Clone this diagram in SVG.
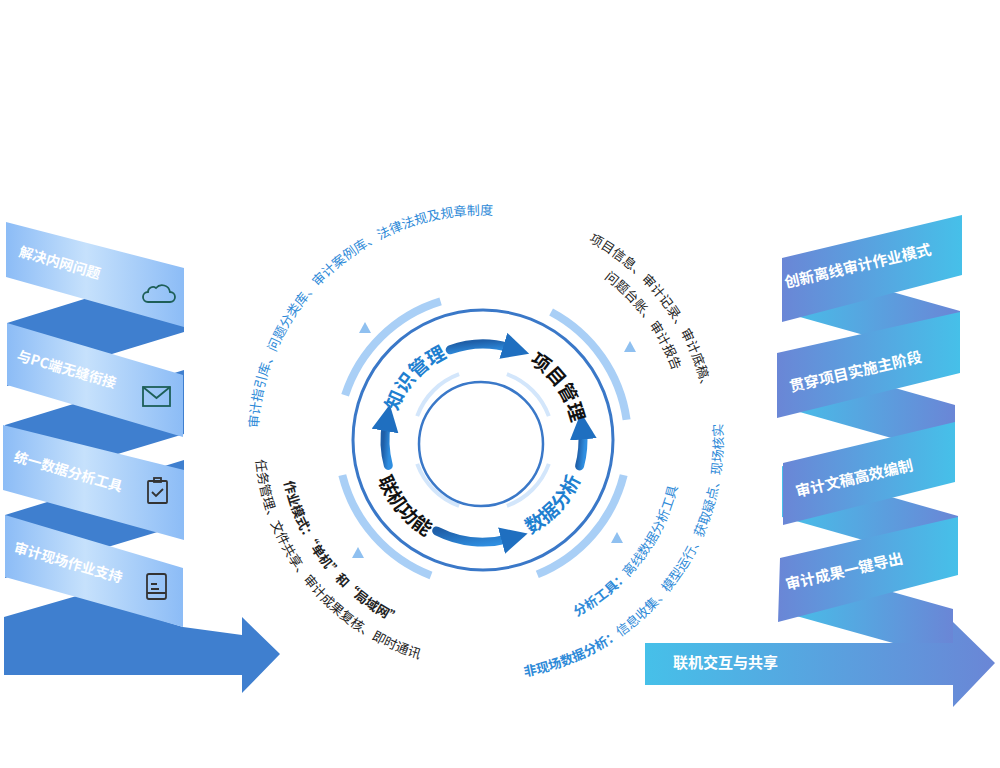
<svg xmlns="http://www.w3.org/2000/svg" width="1000" height="768" viewBox="0 0 1000 768">
<style>
text{font-family:"Noto Sans CJK SC","Liberation Sans",sans-serif}
.bt{fill:#fff;font-weight:bold;font-size:14px}
.rt{fill:#fff;font-weight:bold;font-size:15px}
.blue{fill:#2e8ad8;font-size:13px}
.blk{fill:#222;font-size:13px}
.lab{font-weight:bold;font-size:19px}
.arr{fill:none;stroke:url(#ga);stroke-width:9;stroke-linecap:round}
.la{fill:none;stroke:#a9cff6;stroke-width:8}
.li{fill:none;stroke:#d3e6fb;stroke-width:4}
.tri{fill:#8fc0f0}
.ic{fill:none;stroke:#1d5f58;stroke-width:1.8}
.ic2{fill:none;stroke:#333;stroke-width:1.8}
</style>
<defs>
<linearGradient id="gl" x1="0" y1="0" x2="1" y2="0"><stop offset="0" stop-color="#8cbcf6"/><stop offset="0.45" stop-color="#c6e1fc"/><stop offset="1" stop-color="#8cbcf6"/></linearGradient>
<linearGradient id="gr" x1="0" y1="0" x2="1" y2="0"><stop offset="0" stop-color="#6a86d6"/><stop offset="1" stop-color="#46c0e9"/></linearGradient>
<linearGradient id="gr2" x1="0" y1="0" x2="1" y2="0"><stop offset="0" stop-color="#46c0e9"/><stop offset="1" stop-color="#6a86d6"/></linearGradient>
<linearGradient id="ga" x1="0" y1="0" x2="1" y2="1"><stop offset="0" stop-color="#1f5fa8"/><stop offset="1" stop-color="#2f8ee0"/></linearGradient>
<marker id="ah" viewBox="0 0 10 10" refX="3" refY="5" markerWidth="3" markerHeight="3" orient="auto"><path d="M0,0 L10,5 L0,10 z" fill="#1f6fc0"/></marker>
<path id="pA" d="M258.3,428.2 A225,225 0 0 1 560,228.5"/>
<path id="pB" d="M588.6,241.3 A225,225 0 0 1 708,440"/>
<path id="pC" d="M604,278 A202,202 0 0 1 684,422"/>
<path id="pD" d="M524.7,676.4 A240,240 0 0 0 719.4,398.3"/>
<path id="pE" d="M576.9,616.6 A200,200 0 0 0 683,440"/>
<path id="pF" d="M284,482 A203,203 0 0 0 447.8,640"/>
<path id="pG" d="M255.9,459.9 A228,228 0 0 0 463.1,667.1"/>
<path id="p1" d="M396.1,416.7 A90,90 0 0 1 452.2,355.4"/>
<path id="p2" d="M521,358.4 A90,90 0 0 1 572.7,432.2"/>
<path id="p3" d="M518.9,538.7 A105,105 0 0 0 584.4,467.2"/>
<path id="p4" d="M374.8,469 A112,112 0 0 0 435.7,541.5"/>
</defs>
<rect width="1000" height="768" fill="#fff"/>

<g id="left-panel">
<polygon points="4,617 80,595 183,627 242,635 242,617 280,654 242,693 242,675 4,675" fill="#3f7fcf"/>
<polygon points="7,323 184,268 184,332 7,386" fill="#3f7fcf"/>
<polygon points="5,425 184,370 184,434 5,488" fill="#3f7fcf"/>
<polygon points="5,515 184,460 184,524 5,578" fill="#3f7fcf"/>
<polygon points="6,222 184,268 184,327 6,277" fill="url(#gl)"/>
<polygon points="7,323 183,375 183,437 7,385" fill="url(#gl)"/>
<polygon points="3,425 184,470 184,540 3,490" fill="url(#gl)"/>
<polygon points="5,515 183,568 183,627 5,577" fill="url(#gl)"/>
<g id="n-l1"><text class="bt" transform="translate(18,256) rotate(16)">解决内网问题</text>
<path class="ic" d="M148,302 h22 a5,5 0 0 0 0,-10 a8,8 0 0 0 -14,-4 a5,5 0 0 0 -8,4 a5,5 0 0 0 0,10 z"/></g>
<g id="n-l2"><text class="bt" transform="translate(16,360) rotate(16)">与PC端无缝衔接</text>
<rect class="ic" x="143" y="387" width="27" height="19"/><path class="ic" d="M143,387 L156.5,398 L170,387"/></g>
<g id="n-l3"><text class="bt" transform="translate(13,461) rotate(16)">统一数据分析工具</text>
<rect class="ic2" x="148" y="481" width="19" height="22" rx="1"/><rect class="ic2" x="154" y="478" width="7" height="4" fill="#fff"/><path class="ic2" d="M152,492 l4,4 l7,-7"/></g>
<g id="n-l4"><text class="bt" transform="translate(13,552) rotate(16)">审计现场作业支持</text>
<rect class="ic2" x="147" y="574" width="19" height="25" rx="2"/><path class="ic2" d="M151,584 h6 M151,589 h8 M147,593 h19"/></g>
</g>

<g id="right-panel">
<polygon points="645,643 953,643 953,622 995,663 953,707 953,685 645,685" fill="url(#gr2)"/>
<polygon points="782,261 960,311 960,362 782,312" fill="url(#gr2)"/>
<polygon points="782,356 955,405 955,456 782,407" fill="url(#gr2)"/>
<polygon points="782,466 958,516 958,567 782,517" fill="url(#gr2)"/>
<polygon points="782,561 953,609 953,643 893,643 782,612" fill="url(#gr2)"/>
<polygon points="782,258 962,215 962,275 782,322" fill="url(#gr)"/>
<polygon points="777,353 960,312 960,373 777,418" fill="url(#gr)"/>
<polygon points="783,463 955,422 955,482 783,525" fill="url(#gr)"/>
<polygon points="780,558 958,517 958,575 778,622" fill="url(#gr)"/>
<g id="n-r1"><text class="rt" transform="translate(786,288) rotate(-13)">创新离线审计作业模式</text></g>
<g id="n-r2"><text class="rt" transform="translate(791,392) rotate(-13)">贯穿项目实施主阶段</text></g>
<g id="n-r3"><text class="rt" transform="translate(797,497) rotate(-13)">审计文稿高效编制</text></g>
<g id="n-r4"><text class="rt" transform="translate(787,590) rotate(-13)">审计成果一键导出</text></g>
<g id="n-r5"><text class="rt" x="673" y="668">联机交互与共享</text></g>
</g>

<g id="rings">
<path class="la" d="M345.1,395.2 A145,145 0 0 1 440.6,301.3"/>
<path class="la" d="M551.1,312 A145,145 0 0 1 626.6,419.8"/>
<path class="la" d="M623.7,475.1 A145,145 0 0 1 537.3,574.4"/>
<path class="la" d="M431,575.4 A145,145 0 0 1 342.3,475.1"/>
<polygon class="tri" points="365,322 371,333 359,333"/>
<polygon class="tri" points="630,341 636,352 624,352"/>
<polygon class="tri" points="617,532 623,543 611,543"/>
<polygon class="tri" points="358,547 364,558 352,558"/>
<circle cx="483" cy="440" r="130" fill="#fff" stroke="#3a78c8" stroke-width="3"/>
<path class="li" d="M417.2,416.1 A70,70 0 0 1 459.1,374.2"/>
<path class="li" d="M506.9,374.2 A70,70 0 0 1 548.8,416.1"/>
<path class="li" d="M548.8,463.9 A70,70 0 0 1 506.9,505.8"/>
<path class="li" d="M459.1,505.8 A70,70 0 0 1 417.2,463.9"/>
<circle cx="481" cy="444" r="62" fill="none" stroke="#3a78c8" stroke-width="2.5"/>
</g>

<g id="connectors">
<path class="arr" marker-end="url(#ah)" d="M450.2,349.8 A96,96 0 0 1 511.1,348.2"/>
<path class="arr" marker-end="url(#ah)" d="M579.6,465.9 A100,100 0 0 0 582.6,431.3"/>
<path class="arr" marker-end="url(#ah)" d="M436.7,530.9 A102,102 0 0 0 509.4,538.5"/>
<path class="arr" marker-end="url(#ah)" d="M388.3,465.4 A98,98 0 0 1 386.5,423"/>
</g>

<g id="n-know"><text class="lab" fill="#1e7fd0"><textPath href="#p1" startOffset="50%" text-anchor="middle">知识管理</textPath></text></g>
<g id="n-proj"><text class="lab" fill="#111"><textPath href="#p2" startOffset="50%" text-anchor="middle">项目管理</textPath></text></g>
<g id="n-data"><text class="lab" fill="#1e7fd0"><textPath href="#p3" startOffset="50%" text-anchor="middle">数据分析</textPath></text></g>
<g id="n-online"><text class="lab" fill="#111"><textPath href="#p4" startOffset="50%" text-anchor="middle">联机功能</textPath></text></g>

<g id="arc-texts">
<text class="blue"><textPath href="#pA">审计指引库、问题分类库、审计案例库、法律法规及规章制度</textPath></text>
<text class="blk"><textPath href="#pB">项目信息、审计记录、审计底稿、</textPath></text>
<text class="blk"><textPath href="#pC">问题台账、审计报告</textPath></text>
<text class="blue"><textPath href="#pD"><tspan font-weight="bold">非现场数据分析：</tspan>信息收集、模型运行、获取疑点、现场核实</textPath></text>
<text class="blue"><textPath href="#pE"><tspan font-weight="bold">分析工具：</tspan>离线数据分析工具</textPath></text>
<text class="blk"><textPath href="#pF"><tspan font-weight="bold">作业模式：“单机”和“局域网”</tspan></textPath></text>
<text class="blk"><textPath href="#pG">任务管理、文件共享、审计成果复核、即时通讯</textPath></text>
</g>
</svg>
